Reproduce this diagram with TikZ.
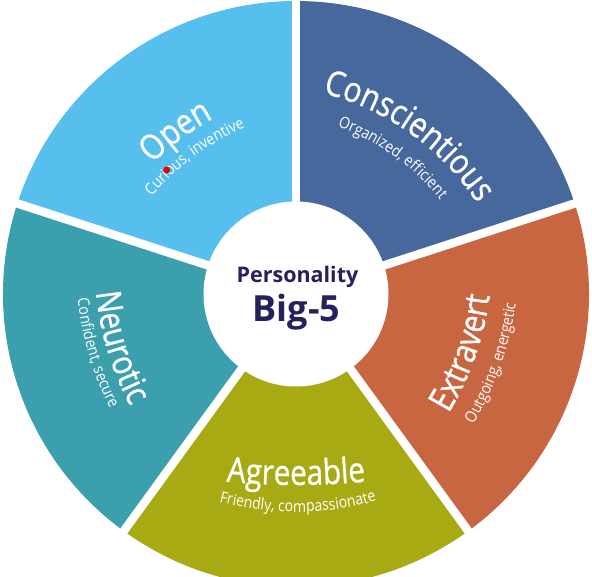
\documentclass[tikz,border=0pt]{standalone}
\usepackage{fontspec}
\usetikzlibrary{calc,decorations.text}
\newfontfamily\labfont[FakeStretch=0.88]{Open Sans}
\newfontfamily\titfont[FakeStretch=0.85,FakeBold=0.8]{Open Sans}
\newfontfamily\hubfont{Open Sans}
\definecolor{openblue}{RGB}{86,191,238}
\definecolor{consblue}{RGB}{70,104,157}
\definecolor{extraorange}{RGB}{200,102,66}
\definecolor{agreegreen}{RGB}{168,170,20}
\definecolor{neuroteal}{RGB}{60,159,174}
\definecolor{hubnavy}{RGB}{36,33,92}
% #1 angle, #2 baseline radius, #3 curvature radius, #4 half span (negative: text faces the centre), #5 font, #6 text
\newcommand\arclabel[6]{%
  \path[decorate,decoration={text along path,text align=center,text color=white,
      text={|#5|#6}}]
    ($(#1:#2)-(#1:#3)+(#1+#4:#3)$) arc[start angle=#1+#4,end angle=#1-#4,radius=#3];}
\newcommand\bigsz{\titfont\fontsize{35}{35}\selectfont}
\newcommand\smallsz{\labfont\fontsize{16}{16}\selectfont}

\begin{document}
\begin{tikzpicture}[x=1pt,y=1pt,
  gap/.style={white,line width=8.5pt},
  hub/.style={circle,fill=white,minimum size=185pt,inner sep=0pt},
  hubtxt/.style={anchor=base,text=hubnavy,inner sep=0pt}]
  \useasboundingbox (-296,-283) rectangle (296,294);
  % the five sectors
  \foreach \a/\c in {90/openblue,162/neuroteal,234/agreegreen,306/extraorange,378/consblue}
    \fill[\c] (0,0) -- (\a:293) arc[start angle=\a,end angle=\a+72,radius=293] -- cycle;
  \foreach \a in {18,90,162,234,306}
    \draw[gap] (0,0) -- (\a:300);
  \node[hub] (core) at (0,0) {};
  \node[hubtxt,font=\hubfont\bfseries\fontsize{21.5}{24}\selectfont] (pers) at (1.5,11) {Personality};
  \node[hubtxt,font=\hubfont\bfseries\fontsize{36}{40}\selectfont] (big) at (0.5,-28) {Big-5};
  % labels
  \arclabel{126.5}{193}{260}{45}{\bigsz}{Open}
  \arclabel{126.5}{171}{240}{45}{\smallsz}{Curious, inventive}
  \arclabel{54.5}{197}{260}{45}{\bigsz}{Conscientious}
  \arclabel{54.6}{169}{230}{45}{\smallsz}{Organized, efficient}
  \arclabel{-19.3}{190}{300}{-40}{\bigsz}{Extravert}
  \arclabel{-19.4}{217}{320}{-40}{\smallsz}{Outgoing, energetic}
  \arclabel{196.8}{197}{300}{-40}{\bigsz}{Neurotic}
  \arclabel{196.5}{216}{320}{-40}{\smallsz}{Confident, secure}
  \arclabel{270}{191}{700}{-18}{\bigsz}{Agreeable}
  \arclabel{270.5}{218}{300}{-40}{\smallsz}{Friendly, compassionate}
  \fill[red!90!black] (-129.3,124) circle[radius=3.5];
\end{tikzpicture}
\end{document}
